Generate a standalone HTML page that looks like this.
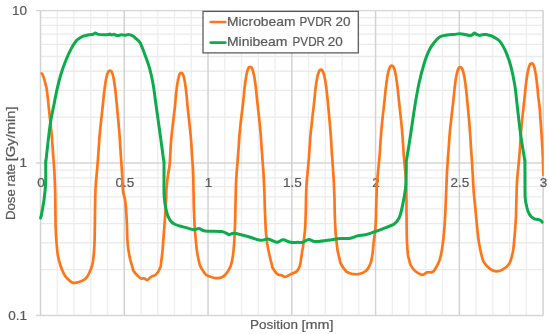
<!DOCTYPE html>
<html><head><meta charset="utf-8"><title>Dose rate profile</title>
<style>
html,body{margin:0;padding:0;background:#fff;}
svg{display:block;}
text{font-family:'Liberation Sans', Arial, sans-serif;fill:#595959;stroke:#595959;stroke-width:0.22px;}
</style></head><body>
<svg width="550" height="334" viewBox="0 0 550 334">
<rect width="550" height="334" fill="#ffffff"/>
<g>
<line x1="57.25" y1="10.6" x2="57.25" y2="315.5" stroke="#efefef" stroke-width="1.4"/>
<line x1="74.01" y1="10.6" x2="74.01" y2="315.5" stroke="#efefef" stroke-width="1.4"/>
<line x1="90.76" y1="10.6" x2="90.76" y2="315.5" stroke="#efefef" stroke-width="1.4"/>
<line x1="107.51" y1="10.6" x2="107.51" y2="315.5" stroke="#efefef" stroke-width="1.4"/>
<line x1="141.02" y1="10.6" x2="141.02" y2="315.5" stroke="#efefef" stroke-width="1.4"/>
<line x1="157.77" y1="10.6" x2="157.77" y2="315.5" stroke="#efefef" stroke-width="1.4"/>
<line x1="174.53" y1="10.6" x2="174.53" y2="315.5" stroke="#efefef" stroke-width="1.4"/>
<line x1="191.28" y1="10.6" x2="191.28" y2="315.5" stroke="#efefef" stroke-width="1.4"/>
<line x1="224.79" y1="10.6" x2="224.79" y2="315.5" stroke="#efefef" stroke-width="1.4"/>
<line x1="241.54" y1="10.6" x2="241.54" y2="315.5" stroke="#efefef" stroke-width="1.4"/>
<line x1="258.29" y1="10.6" x2="258.29" y2="315.5" stroke="#efefef" stroke-width="1.4"/>
<line x1="275.05" y1="10.6" x2="275.05" y2="315.5" stroke="#efefef" stroke-width="1.4"/>
<line x1="308.55" y1="10.6" x2="308.55" y2="315.5" stroke="#efefef" stroke-width="1.4"/>
<line x1="325.31" y1="10.6" x2="325.31" y2="315.5" stroke="#efefef" stroke-width="1.4"/>
<line x1="342.06" y1="10.6" x2="342.06" y2="315.5" stroke="#efefef" stroke-width="1.4"/>
<line x1="358.81" y1="10.6" x2="358.81" y2="315.5" stroke="#efefef" stroke-width="1.4"/>
<line x1="392.32" y1="10.6" x2="392.32" y2="315.5" stroke="#efefef" stroke-width="1.4"/>
<line x1="409.07" y1="10.6" x2="409.07" y2="315.5" stroke="#efefef" stroke-width="1.4"/>
<line x1="425.83" y1="10.6" x2="425.83" y2="315.5" stroke="#efefef" stroke-width="1.4"/>
<line x1="442.58" y1="10.6" x2="442.58" y2="315.5" stroke="#efefef" stroke-width="1.4"/>
<line x1="476.09" y1="10.6" x2="476.09" y2="315.5" stroke="#efefef" stroke-width="1.4"/>
<line x1="492.84" y1="10.6" x2="492.84" y2="315.5" stroke="#efefef" stroke-width="1.4"/>
<line x1="509.59" y1="10.6" x2="509.59" y2="315.5" stroke="#efefef" stroke-width="1.4"/>
<line x1="526.35" y1="10.6" x2="526.35" y2="315.5" stroke="#efefef" stroke-width="1.4"/>
<line x1="40.5" y1="269.61" x2="543.1" y2="269.61" stroke="#ebebeb" stroke-width="1.3"/>
<line x1="40.5" y1="242.76" x2="543.1" y2="242.76" stroke="#ebebeb" stroke-width="1.3"/>
<line x1="40.5" y1="223.72" x2="543.1" y2="223.72" stroke="#ebebeb" stroke-width="1.3"/>
<line x1="40.5" y1="208.94" x2="543.1" y2="208.94" stroke="#ebebeb" stroke-width="1.3"/>
<line x1="40.5" y1="196.87" x2="543.1" y2="196.87" stroke="#ebebeb" stroke-width="1.3"/>
<line x1="40.5" y1="186.66" x2="543.1" y2="186.66" stroke="#ebebeb" stroke-width="1.3"/>
<line x1="40.5" y1="177.82" x2="543.1" y2="177.82" stroke="#ebebeb" stroke-width="1.3"/>
<line x1="40.5" y1="170.03" x2="543.1" y2="170.03" stroke="#ebebeb" stroke-width="1.3"/>
<line x1="40.5" y1="117.16" x2="543.1" y2="117.16" stroke="#ebebeb" stroke-width="1.3"/>
<line x1="40.5" y1="90.31" x2="543.1" y2="90.31" stroke="#ebebeb" stroke-width="1.3"/>
<line x1="40.5" y1="71.27" x2="543.1" y2="71.27" stroke="#ebebeb" stroke-width="1.3"/>
<line x1="40.5" y1="56.49" x2="543.1" y2="56.49" stroke="#ebebeb" stroke-width="1.3"/>
<line x1="40.5" y1="44.42" x2="543.1" y2="44.42" stroke="#ebebeb" stroke-width="1.3"/>
<line x1="40.5" y1="34.21" x2="543.1" y2="34.21" stroke="#ebebeb" stroke-width="1.3"/>
<line x1="40.5" y1="25.37" x2="543.1" y2="25.37" stroke="#ebebeb" stroke-width="1.3"/>
<line x1="40.5" y1="17.58" x2="543.1" y2="17.58" stroke="#ebebeb" stroke-width="1.3"/>
<line x1="36.0" y1="315.50" x2="543.1" y2="315.50" stroke="#d6d6d6" stroke-width="1.4"/>
<line x1="36.0" y1="163.05" x2="543.1" y2="163.05" stroke="#d6d6d6" stroke-width="1.4"/>
<line x1="36.0" y1="10.60" x2="543.1" y2="10.60" stroke="#d6d6d6" stroke-width="1.4"/>
<line x1="40.50" y1="10.6" x2="40.50" y2="315.5" stroke="#d2d2d2" stroke-width="1.5"/>
<line x1="124.27" y1="10.6" x2="124.27" y2="315.5" stroke="#d2d2d2" stroke-width="1.5"/>
<line x1="208.03" y1="10.6" x2="208.03" y2="315.5" stroke="#d2d2d2" stroke-width="1.5"/>
<line x1="291.80" y1="10.6" x2="291.80" y2="315.5" stroke="#d2d2d2" stroke-width="1.5"/>
<line x1="375.57" y1="10.6" x2="375.57" y2="315.5" stroke="#d2d2d2" stroke-width="1.5"/>
<line x1="459.33" y1="10.6" x2="459.33" y2="315.5" stroke="#d2d2d2" stroke-width="1.5"/>
<line x1="543.10" y1="10.6" x2="543.10" y2="315.5" stroke="#d2d2d2" stroke-width="1.5"/>
</g>
<g font-size="13.5">
<text x="27" y="15" text-anchor="end">10</text>
<text x="27" y="167.3" text-anchor="end">1</text>
<text x="27" y="320" text-anchor="end">0.1</text>
<text x="41.0" y="186.6" text-anchor="middle">0</text>
<text x="124.8" y="186.6" text-anchor="middle">0.5</text>
<text x="208.5" y="186.6" text-anchor="middle">1</text>
<text x="292.3" y="186.6" text-anchor="middle">1.5</text>
<text x="376.1" y="186.6" text-anchor="middle">2</text>
<text x="459.8" y="186.6" text-anchor="middle">2.5</text>
<text x="543.6" y="186.6" text-anchor="middle">3</text>
<text x="249.9" y="329.3" textLength="48" lengthAdjust="spacingAndGlyphs">Position</text>
<text x="301.4" y="329.3" textLength="32" lengthAdjust="spacingAndGlyphs">[mm]</text>
<g transform="translate(14.6,0) rotate(-90)">
<text x="-220" y="0" textLength="30.8" lengthAdjust="spacingAndGlyphs">Dose</text>
<text x="-186.4" y="0" textLength="22.4" lengthAdjust="spacingAndGlyphs">rate</text>
<text x="-161.3" y="0" textLength="55" lengthAdjust="spacingAndGlyphs">[Gy/min]</text>
</g>
</g>
<clipPath id="pc"><rect x="38" y="0" width="505.7" height="334"/></clipPath>
<g clip-path="url(#pc)">
<path d="M41.7,73.4C41.9,73.6 42.2,73.7 42.6,74.6C43.0,75.5 43.5,77.2 44.0,78.6C44.5,80.0 44.9,81.6 45.3,83.2C45.7,84.8 46.1,85.5 46.5,88.0C46.9,90.5 47.5,95.2 47.8,98.0C48.2,100.8 48.2,101.8 48.5,105.0C48.8,108.2 49.4,113.0 49.8,117.0C50.3,121.0 50.7,125.0 51.1,129.0C51.5,133.0 51.9,137.0 52.2,141.0C52.5,145.0 52.7,149.0 53.0,153.0C53.3,157.0 53.7,161.0 53.9,165.0C54.2,169.0 54.5,173.0 54.6,177.0C54.8,181.0 55.0,185.0 55.1,189.0C55.2,193.0 55.2,197.0 55.3,201.0C55.4,205.0 55.4,209.0 55.4,213.0C55.5,217.0 55.5,221.0 55.6,225.0C55.8,229.0 55.9,233.0 56.1,237.0C56.4,241.0 56.8,246.0 57.1,249.0C57.3,252.0 57.3,252.3 57.8,255.0C58.3,257.7 59.3,261.9 60.3,265.0C61.3,268.1 62.7,271.6 63.9,273.9C65.1,276.2 66.2,277.5 67.7,279.0C69.2,280.5 70.8,282.2 72.7,282.7C74.6,283.2 76.9,282.6 79.0,282.0C81.1,281.4 83.6,280.3 85.2,279.0C86.8,277.7 87.6,276.2 88.7,274.0C89.8,271.8 91.3,268.4 92.0,266.0C92.7,263.6 92.8,262.6 93.2,259.5C93.6,256.4 94.1,250.8 94.3,247.5C94.5,244.2 94.5,242.0 94.6,240.0C94.7,238.0 94.6,238.2 94.7,235.5C94.7,232.8 94.8,227.5 94.9,223.5C94.9,219.5 95.0,215.5 95.0,211.5C95.1,207.5 95.2,203.5 95.2,199.5C95.3,195.5 95.4,191.5 95.6,187.5C95.8,183.5 96.2,179.5 96.6,175.5C96.9,171.5 97.3,167.5 97.6,163.5C97.9,159.5 98.3,155.5 98.5,151.5C98.8,147.5 99.0,143.5 99.3,139.5C99.6,135.5 100.0,131.5 100.4,127.5C100.8,123.5 101.2,119.5 101.7,115.5C102.1,111.5 102.7,106.7 103.0,103.5C103.3,100.3 103.5,98.7 103.7,96.5C103.9,94.3 104.1,92.5 104.4,90.5C104.6,88.5 104.9,86.3 105.2,84.5C105.4,82.7 105.7,81.0 106.0,79.5C106.3,78.0 106.6,76.7 106.9,75.5C107.2,74.3 107.6,73.2 107.9,72.5C108.2,71.8 108.5,71.3 108.8,71.0C109.2,70.7 109.6,70.5 110.0,70.5C110.4,70.5 110.8,70.7 111.1,71.0C111.4,71.3 111.7,71.8 112.0,72.5C112.3,73.2 112.7,74.3 113.0,75.5C113.3,76.7 113.5,78.0 113.8,79.5C114.1,81.0 114.3,82.7 114.6,84.5C114.9,86.3 115.1,88.5 115.4,90.5C115.6,92.5 115.8,94.3 116.0,96.5C116.2,98.7 116.3,100.3 116.7,103.5C117.0,106.7 117.4,111.5 117.8,115.5C118.2,119.5 118.6,123.5 118.9,127.5C119.2,131.5 119.6,135.5 119.9,139.5C120.1,143.5 120.3,147.5 120.6,151.5C120.8,155.5 121.1,159.5 121.4,163.5C121.7,167.5 121.9,171.5 122.2,175.5C122.4,179.5 122.6,184.6 122.8,187.5C123.0,190.4 122.9,191.0 123.3,193.0C123.7,195.0 124.5,196.4 125.0,199.5C125.5,202.6 125.9,207.5 126.2,211.5C126.5,215.5 126.7,219.5 126.9,223.5C127.0,227.5 127.1,232.8 127.2,235.5C127.3,238.2 127.3,238.0 127.4,240.0C127.5,242.0 127.8,245.0 128.1,247.5C128.4,250.0 128.9,253.0 129.3,255.0C129.7,257.0 129.7,257.4 130.2,259.5C130.8,261.6 132.0,265.7 132.6,267.6C133.2,269.5 132.7,269.6 133.6,271.0C134.5,272.4 136.8,274.9 138.1,276.2C139.3,277.5 140.1,278.2 141.1,278.6C142.1,279.0 143.1,278.1 144.1,278.3C145.1,278.5 145.9,280.2 147.1,280.0C148.3,279.8 149.6,277.7 151.1,276.8C152.6,275.9 154.6,275.9 156.1,274.4C157.6,272.9 159.5,269.7 160.3,267.6C161.1,265.5 160.8,264.8 161.2,261.8C161.6,258.8 162.2,253.8 162.6,249.8C162.9,245.8 163.2,241.1 163.5,237.8C163.7,234.5 163.9,232.0 164.1,230.0C164.3,228.0 164.2,228.5 164.4,225.8C164.6,223.1 165.0,217.8 165.3,213.8C165.5,209.8 165.8,205.8 166.0,201.8C166.2,197.8 166.2,193.8 166.4,189.8C166.7,185.8 167.1,181.8 167.6,177.8C168.1,173.8 169.1,169.8 169.5,165.8C170.0,161.8 170.1,157.8 170.3,153.8C170.6,149.8 170.7,145.8 171.0,141.8C171.3,137.8 171.8,133.8 172.2,129.8C172.7,125.8 173.2,121.8 173.6,117.8C174.1,113.8 174.7,109.0 175.0,105.8C175.4,102.6 175.4,101.0 175.6,98.8C175.8,96.6 176.0,94.8 176.2,92.8C176.4,90.8 176.7,88.6 176.9,86.8C177.2,85.0 177.4,83.3 177.7,81.8C177.9,80.3 178.2,79.0 178.5,77.8C178.7,76.6 179.1,75.5 179.4,74.8C179.6,74.0 179.9,73.6 180.2,73.3C180.5,73.0 180.9,72.8 181.2,72.8C181.5,72.8 181.9,73.0 182.2,73.3C182.6,73.6 182.8,74.0 183.1,74.8C183.4,75.5 183.7,76.6 184.0,77.8C184.3,79.0 184.5,80.3 184.8,81.8C185.1,83.3 185.3,85.0 185.6,86.8C185.8,88.6 186.1,90.8 186.3,92.8C186.5,94.8 186.7,96.6 186.9,98.8C187.1,101.0 187.2,102.6 187.5,105.8C187.8,109.0 188.4,113.8 188.8,117.8C189.2,121.8 189.7,125.8 190.1,129.8C190.5,133.8 190.9,137.8 191.2,141.8C191.5,145.8 191.6,149.8 191.9,153.8C192.1,157.8 192.6,161.8 192.8,165.8C193.0,169.8 193.2,174.6 193.3,177.8C193.4,181.0 193.4,183.0 193.4,185.0C193.4,187.0 193.4,187.0 193.5,189.8C193.6,192.6 193.7,197.8 193.7,201.8C193.8,205.8 193.9,209.8 194.1,213.8C194.2,217.8 194.4,221.8 194.6,225.8C194.9,229.8 195.3,234.8 195.6,237.8C195.9,240.8 196.0,242.0 196.2,244.0C196.4,246.0 196.6,248.0 196.8,249.8C197.1,251.6 197.2,253.0 197.6,255.0C198.0,257.0 198.6,259.9 199.1,261.8C199.6,263.7 199.4,264.4 200.4,266.4C201.4,268.4 203.8,272.2 205.2,273.9C206.6,275.5 207.6,275.7 209.0,276.3C210.4,276.9 212.0,277.4 213.5,277.7C215.0,278.0 216.5,278.3 218.0,278.2C219.5,278.1 221.1,277.6 222.3,277.0C223.6,276.4 224.6,275.5 225.5,274.5C226.4,273.5 227.1,272.8 228.0,271.2C228.9,269.6 230.2,267.6 231.0,265.0C231.8,262.4 232.4,259.3 232.9,255.8C233.4,252.3 233.8,247.8 234.1,243.8C234.4,239.8 234.6,234.9 234.7,231.8C234.9,228.7 234.9,227.0 235.0,225.0C235.1,223.0 235.1,222.7 235.2,219.8C235.2,216.9 235.4,211.8 235.4,207.8C235.5,203.8 235.6,199.8 235.7,195.8C235.8,191.8 235.9,187.8 236.0,183.8C236.2,179.8 236.5,175.8 236.7,171.8C237.0,167.8 237.4,163.8 237.7,159.8C238.0,155.8 238.3,151.8 238.6,147.8C238.9,143.8 239.1,139.8 239.4,135.8C239.7,131.8 240.2,127.8 240.6,123.8C241.0,119.8 241.5,115.8 242.0,111.8C242.5,107.8 243.1,103.0 243.4,99.8C243.8,96.6 243.9,95.0 244.1,92.8C244.3,90.6 244.5,88.8 244.7,86.8C245.0,84.8 245.2,82.6 245.5,80.8C245.8,79.0 246.0,77.3 246.3,75.8C246.6,74.3 246.8,73.0 247.1,71.8C247.4,70.6 247.8,69.5 248.1,68.8C248.4,68.0 248.7,67.6 249.0,67.3C249.3,67.0 249.7,66.8 250.1,66.8C250.5,66.8 250.9,67.0 251.3,67.3C251.6,67.6 251.9,68.0 252.2,68.8C252.5,69.5 252.9,70.6 253.2,71.8C253.5,73.0 253.8,74.3 254.1,75.8C254.4,77.3 254.7,79.0 254.9,80.8C255.2,82.6 255.5,84.8 255.7,86.8C256.0,88.8 256.2,90.6 256.4,92.8C256.6,95.0 256.8,96.6 257.1,99.8C257.4,103.0 258.0,107.8 258.4,111.8C258.9,115.8 259.3,119.8 259.7,123.8C260.1,127.8 260.5,131.8 260.8,135.8C261.1,139.8 261.3,143.8 261.6,147.8C261.9,151.8 262.2,155.8 262.5,159.8C262.8,163.8 263.1,167.8 263.4,171.8C263.6,175.8 263.9,179.8 264.0,183.8C264.2,187.8 264.4,191.8 264.5,195.8C264.6,199.8 264.7,203.8 264.8,207.8C265.0,211.8 265.1,216.6 265.3,219.8C265.4,223.0 265.5,225.0 265.6,227.0C265.7,229.0 265.7,229.0 265.9,231.8C266.2,234.6 266.6,239.8 267.2,243.8C267.9,247.8 268.8,252.3 269.6,255.8C270.3,259.3 271.4,263.0 271.9,265.0C272.4,267.0 271.7,266.3 272.6,267.8C273.5,269.3 275.6,272.7 277.2,274.0C278.8,275.3 280.9,274.9 282.2,275.4C283.5,275.9 283.8,277.2 285.2,277.0C286.6,276.8 288.4,275.3 290.3,274.4C292.2,273.5 294.9,272.6 296.3,271.6C297.7,270.6 298.1,269.7 298.8,268.4C299.5,267.1 299.9,265.6 300.3,264.0C300.7,262.4 300.8,260.7 301.1,258.7C301.4,256.7 301.8,254.0 302.1,252.0C302.4,250.0 302.6,249.6 303.0,246.7C303.4,243.8 304.2,238.0 304.5,234.7C304.9,231.4 305.1,229.0 305.2,227.0C305.3,225.0 305.3,225.4 305.4,222.7C305.5,220.0 305.7,214.7 305.8,210.7C305.9,206.7 305.9,202.7 306.0,198.7C306.1,194.7 306.2,190.7 306.4,186.7C306.6,182.7 307.0,178.7 307.4,174.7C307.7,170.7 308.2,166.7 308.5,162.7C308.9,158.7 309.2,154.7 309.4,150.7C309.7,146.7 309.9,142.7 310.2,138.7C310.5,134.7 310.9,130.7 311.4,126.7C311.8,122.7 312.3,118.7 312.7,114.7C313.2,110.7 313.8,105.9 314.1,102.7C314.5,99.5 314.6,97.9 314.8,95.7C315.0,93.5 315.2,91.7 315.4,89.7C315.7,87.7 315.9,85.5 316.2,83.7C316.5,81.9 316.7,80.2 317.0,78.7C317.3,77.2 317.6,75.9 317.9,74.7C318.2,73.5 318.6,72.5 318.9,71.7C319.2,71.0 319.4,70.5 319.8,70.2C320.1,69.9 320.5,69.7 320.9,69.7C321.3,69.7 321.7,69.9 322.1,70.2C322.4,70.5 322.7,71.0 323.0,71.7C323.3,72.5 323.7,73.5 324.0,74.7C324.3,75.9 324.6,77.2 324.9,78.7C325.2,80.2 325.5,81.9 325.7,83.7C326.0,85.5 326.3,87.7 326.5,89.7C326.8,91.7 327.0,93.5 327.2,95.7C327.4,97.9 327.6,99.5 327.9,102.7C328.2,105.9 328.7,110.7 329.0,114.7C329.4,118.7 329.7,122.7 330.1,126.7C330.4,130.7 330.7,134.7 331.0,138.7C331.3,142.7 331.4,146.7 331.7,150.7C331.9,154.7 332.3,158.7 332.6,162.7C332.8,166.7 333.1,170.7 333.4,174.7C333.6,178.7 333.9,182.7 334.0,186.7C334.2,190.7 334.3,194.7 334.5,198.7C334.6,202.7 334.6,206.7 334.7,210.7C334.8,214.7 335.0,220.0 335.1,222.7C335.2,225.4 335.2,225.0 335.3,227.0C335.4,229.0 335.5,231.4 335.8,234.7C336.1,238.0 336.8,244.0 337.1,246.7C337.4,249.4 337.3,249.0 337.7,251.0C338.1,253.0 338.9,256.5 339.4,258.7C340.0,260.9 339.9,261.9 341.0,264.0C342.1,266.1 344.6,269.7 346.1,271.2C347.6,272.7 348.7,272.7 350.0,273.2C351.3,273.7 352.4,274.1 354.1,274.2C355.8,274.3 358.1,274.4 360.1,273.8C362.1,273.2 364.4,272.4 366.1,270.8C367.8,269.2 369.2,266.7 370.3,264.0C371.4,261.3 371.9,258.2 372.4,254.7C373.0,251.1 373.1,246.7 373.6,242.7C374.0,238.7 374.9,234.7 375.2,230.7C375.6,226.7 375.7,222.7 375.9,218.7C376.1,214.7 376.1,210.7 376.2,206.7C376.4,202.7 376.4,198.7 376.6,194.7C376.7,190.7 376.8,186.7 377.1,182.7C377.3,178.7 377.8,174.7 378.2,170.7C378.6,166.7 379.0,162.7 379.3,158.7C379.7,154.7 380.0,150.7 380.2,146.7C380.5,142.7 380.7,138.7 381.0,134.7C381.3,130.7 381.7,126.7 382.1,122.7C382.5,118.7 382.9,114.7 383.4,110.7C383.8,106.7 384.4,101.9 384.7,98.7C385.0,95.5 385.2,93.9 385.4,91.7C385.6,89.5 385.8,87.7 386.1,85.7C386.3,83.7 386.6,81.5 386.9,79.7C387.1,77.9 387.4,76.2 387.7,74.7C388.0,73.2 388.3,71.9 388.6,70.7C388.9,69.5 389.3,68.5 389.6,67.7C389.9,67.0 390.2,66.5 390.5,66.2C390.9,65.9 391.3,65.7 391.7,65.7C392.1,65.7 392.5,65.9 392.9,66.2C393.2,66.5 393.5,67.0 393.8,67.7C394.1,68.5 394.5,69.5 394.8,70.7C395.1,71.9 395.4,73.2 395.7,74.7C396.0,76.2 396.3,77.9 396.5,79.7C396.8,81.5 397.1,83.7 397.3,85.7C397.6,87.7 397.8,89.5 398.0,91.7C398.2,93.9 398.4,95.5 398.7,98.7C399.0,101.9 399.6,106.7 400.0,110.7C400.5,114.7 400.9,118.7 401.3,122.7C401.7,126.7 402.1,130.7 402.4,134.7C402.7,138.7 402.9,142.7 403.2,146.7C403.4,150.7 403.7,154.7 404.1,158.7C404.4,162.7 404.8,166.7 405.2,170.7C405.5,174.7 406.0,178.7 406.2,182.7C406.4,186.7 406.4,190.7 406.4,194.7C406.5,198.7 406.5,202.7 406.5,206.7C406.5,210.7 406.5,214.7 406.6,218.7C406.6,222.7 406.6,226.7 406.7,230.7C406.8,234.7 406.8,238.7 407.0,242.7C407.2,246.7 407.6,251.8 407.9,254.7C408.3,257.6 408.8,258.3 409.2,260.0C409.6,261.7 409.8,263.4 410.6,265.0C411.4,266.6 412.8,268.5 414.0,269.8C415.2,271.1 416.4,272.0 417.8,272.8C419.2,273.6 421.1,275.0 422.6,274.9C424.2,274.8 425.3,273.0 427.1,272.4C428.9,271.8 431.4,273.1 433.4,271.4C435.3,269.7 437.6,264.6 438.8,262.0C440.0,259.4 440.1,259.1 440.7,256.1C441.4,253.1 442.2,248.1 442.7,244.1C443.3,240.1 443.7,235.3 444.0,232.1C444.3,228.9 444.5,227.0 444.6,225.0C444.7,223.0 444.8,222.9 444.9,220.1C445.1,217.3 445.3,212.1 445.5,208.1C445.7,204.1 445.8,200.1 446.0,196.1C446.2,192.1 446.3,188.1 446.5,184.1C446.7,180.1 446.8,176.1 447.0,172.1C447.2,168.1 447.5,164.1 447.8,160.1C448.0,156.1 448.4,152.1 448.7,148.1C449.0,144.1 449.2,140.1 449.5,136.1C449.8,132.1 450.2,128.1 450.7,124.1C451.1,120.1 451.6,116.1 452.0,112.1C452.5,108.1 453.1,103.3 453.4,100.1C453.8,96.9 453.9,95.3 454.1,93.1C454.3,90.9 454.5,89.1 454.7,87.1C455.0,85.1 455.2,82.9 455.5,81.1C455.8,79.3 456.0,77.6 456.3,76.1C456.6,74.6 456.9,73.3 457.2,72.1C457.5,70.9 457.9,69.8 458.2,69.1C458.5,68.3 458.7,67.9 459.1,67.6C459.4,67.3 459.8,67.1 460.2,67.1C460.6,67.1 461.0,67.3 461.4,67.6C461.7,67.9 462.0,68.3 462.3,69.1C462.6,69.8 463.0,70.9 463.3,72.1C463.6,73.3 463.9,74.6 464.2,76.1C464.5,77.6 464.8,79.3 465.0,81.1C465.3,82.9 465.6,85.1 465.8,87.1C466.1,89.1 466.3,90.9 466.5,93.1C466.7,95.3 466.9,96.9 467.2,100.1C467.5,103.3 468.0,108.1 468.3,112.1C468.7,116.1 469.0,120.1 469.4,124.1C469.7,128.1 470.0,132.1 470.3,136.1C470.6,140.1 470.7,144.1 471.0,148.1C471.2,152.1 471.6,156.1 471.9,160.1C472.1,164.1 472.4,168.1 472.6,172.1C472.9,176.1 473.1,181.1 473.2,184.1C473.4,187.1 473.5,188.0 473.6,190.0C473.7,192.0 473.8,193.1 474.1,196.1C474.4,199.1 474.9,204.1 475.3,208.1C475.7,212.1 476.1,216.9 476.4,220.1C476.7,223.2 476.9,225.0 477.1,227.0C477.3,229.0 477.4,229.9 477.6,232.1C477.9,234.3 478.3,238.0 478.6,240.0C478.9,242.0 478.7,241.4 479.2,244.1C479.7,246.8 480.9,253.0 481.8,256.1C482.6,259.2 482.7,260.5 484.1,262.6C485.5,264.7 487.9,267.4 489.9,268.9C491.9,270.4 494.1,271.3 496.2,271.4C498.3,271.5 500.4,270.8 502.5,269.6C504.6,268.4 507.4,266.9 509.1,264.0C510.8,261.1 512.0,256.2 512.8,252.3C513.7,248.4 513.8,244.3 514.2,240.3C514.6,236.3 514.9,232.3 515.2,228.3C515.5,224.3 515.8,220.3 516.0,216.3C516.1,212.3 516.2,208.3 516.3,204.3C516.4,200.3 516.5,196.3 516.6,192.3C516.7,188.3 516.8,184.3 517.1,180.3C517.4,176.3 517.8,172.3 518.2,168.3C518.6,164.3 519.0,160.3 519.3,156.3C519.7,152.3 520.0,148.3 520.2,144.3C520.5,140.3 520.7,136.3 521.0,132.3C521.3,128.3 521.7,124.3 522.1,120.3C522.5,116.3 522.9,112.3 523.4,108.3C523.8,104.3 524.4,99.5 524.7,96.3C525.0,93.1 525.2,91.5 525.4,89.3C525.6,87.1 525.8,85.3 526.1,83.3C526.3,81.3 526.6,79.1 526.9,77.3C527.1,75.5 527.4,73.8 527.7,72.3C528.0,70.8 528.3,69.5 528.6,68.3C528.9,67.1 529.3,66.0 529.6,65.3C529.9,64.5 530.2,64.1 530.5,63.8C530.9,63.5 531.3,63.3 531.7,63.3C532.1,63.3 532.4,63.5 532.8,63.8C533.1,64.1 533.3,64.5 533.7,65.3C534.0,66.0 534.3,67.1 534.6,68.3C534.9,69.5 535.2,70.8 535.4,72.3C535.7,73.8 535.9,75.5 536.2,77.3C536.5,79.1 536.7,81.3 536.9,83.3C537.2,85.3 537.4,87.1 537.6,89.3C537.8,91.5 537.9,93.1 538.2,96.3C538.6,99.5 539.3,104.3 539.7,108.3C540.1,112.2 540.1,114.7 540.5,120.0C540.9,125.3 541.5,133.7 541.9,140.0C542.3,146.3 542.6,152.2 542.9,158.0C543.1,163.8 543.3,172.2 543.4,175.0" fill="none" stroke="#ff7619" stroke-width="2.7" stroke-linejoin="round" stroke-linecap="round"/>
<path d="M40.6,218.0C40.7,217.7 40.9,217.3 41.2,216.0C41.5,214.7 41.8,212.7 42.3,210.0C42.8,207.3 43.5,203.7 44.0,200.0C44.5,196.3 45.0,191.3 45.3,188.0C45.6,184.7 45.6,184.3 45.7,180.0C45.8,175.7 45.7,165.4 45.7,162.2C45.7,159.0 45.7,161.4 45.8,161.0C45.9,160.6 45.4,165.5 46.1,159.5C46.8,153.5 48.7,134.7 50.1,125.1C51.5,115.5 53.3,108.2 54.5,102.0C55.7,95.8 56.3,92.5 57.4,87.8C58.5,83.1 59.6,78.6 61.0,74.0C62.4,69.4 64.2,64.4 65.9,60.2C67.6,56.0 69.4,52.1 71.1,48.9C72.8,45.7 74.9,42.5 76.3,40.8C77.7,39.1 78.0,39.3 79.2,38.5C80.4,37.7 81.5,36.8 83.2,36.2C84.9,35.6 87.5,35.1 89.2,34.8C90.9,34.5 92.2,34.5 93.2,34.2C94.2,33.9 94.4,32.9 95.2,32.9C96.0,32.9 96.7,34.1 98.2,34.4C99.7,34.7 102.6,34.8 104.3,34.8C106.0,34.8 107.4,34.7 108.3,34.6C109.2,34.5 109.3,33.9 109.9,34.0C110.5,34.1 111.2,35.0 111.9,35.0C112.6,35.0 113.0,34.1 113.9,34.2C114.8,34.3 116.1,35.5 117.3,35.6C118.5,35.7 120.0,34.9 121.3,34.8C122.6,34.7 124.1,35.3 125.3,35.2C126.5,35.1 127.2,34.3 128.4,34.4C129.6,34.5 131.2,35.0 132.4,35.6C133.6,36.2 134.1,36.9 135.4,38.1C136.7,39.3 138.7,40.4 140.2,43.0C141.7,45.6 143.1,49.8 144.6,53.9C146.1,58.0 147.9,62.5 149.4,67.7C150.9,72.9 152.3,79.6 153.3,85.3C154.3,91.0 154.6,94.7 155.6,102.0C156.6,109.3 158.1,119.6 159.4,129.0C160.7,138.4 162.7,153.2 163.4,158.5C164.1,163.8 163.7,159.8 163.8,160.5C163.9,161.2 164.0,159.2 164.0,162.5C164.0,165.8 164.0,174.6 164.0,180.0C164.0,185.4 163.9,190.8 164.1,195.0C164.3,199.2 164.7,201.8 165.2,205.0C165.7,208.2 166.4,211.4 167.2,214.0C168.0,216.6 169.0,218.6 170.2,220.3C171.4,222.0 172.7,223.1 174.3,224.0C175.9,224.9 178.1,225.4 180.0,226.0C181.9,226.6 183.7,227.0 186.0,227.6C188.3,228.2 191.8,229.5 193.9,229.7C196.1,229.8 197.0,228.3 198.9,228.5C200.8,228.7 201.4,230.5 205.2,231.0C209.0,231.5 217.6,230.9 221.6,231.5C225.6,232.1 227.0,234.2 229.1,234.5C231.2,234.8 231.0,233.0 234.1,233.3C237.2,233.6 243.5,235.3 247.9,236.5C252.3,237.7 257.1,239.9 260.5,240.3C263.9,240.7 265.3,238.7 268.0,239.0C270.7,239.3 274.3,242.2 276.8,242.3C279.3,242.4 280.8,239.8 283.1,239.8C285.4,239.8 288.2,241.9 290.6,242.3C293.0,242.7 295.7,242.3 297.7,242.3C299.7,242.3 300.8,242.8 302.6,242.3C304.5,241.8 306.7,239.6 308.8,239.5C310.9,239.4 312.0,241.5 315.1,241.6C318.2,241.7 323.5,240.8 327.7,240.3C331.9,239.8 336.5,238.8 340.3,238.5C344.1,238.2 347.4,238.8 350.3,238.3C353.2,237.9 355.3,236.4 357.8,235.8C360.3,235.2 362.5,235.5 365.4,234.8C368.3,234.1 372.0,232.7 375.4,231.5C378.8,230.3 382.4,228.9 385.5,227.7C388.6,226.4 392.0,225.7 394.3,224.0C396.6,222.3 397.9,220.8 399.3,217.7C400.7,214.5 401.6,209.7 402.6,205.1C403.6,200.5 404.7,194.5 405.3,190.0C405.9,185.5 405.9,182.5 406.1,178.0C406.3,173.5 406.3,165.8 406.3,163.0C406.3,160.2 406.2,161.8 406.3,161.2C406.4,160.6 405.8,164.3 406.6,159.6C407.4,154.8 409.5,142.0 410.9,132.7C412.3,123.4 413.8,112.5 415.2,104.0C416.6,95.5 417.8,88.8 419.3,82.0C420.8,75.2 422.7,68.2 424.3,63.0C425.9,57.8 427.2,54.4 428.8,51.0C430.4,47.6 432.1,45.2 434.0,42.8C435.9,40.4 437.8,38.1 440.0,36.8C442.2,35.5 444.9,35.4 447.2,35.0C449.5,34.6 451.9,34.6 454.0,34.4C456.1,34.2 457.9,33.8 459.7,33.8C461.5,33.8 463.3,34.1 465.0,34.4C466.7,34.7 468.6,35.5 469.8,35.5C471.1,35.5 471.7,35.0 472.5,34.6C473.3,34.2 473.8,33.0 474.5,33.0C475.2,33.0 475.6,34.0 476.5,34.4C477.4,34.8 478.7,35.4 479.8,35.4C480.9,35.4 481.9,34.7 483.0,34.6C484.1,34.5 485.0,34.5 486.1,34.6C487.2,34.7 488.4,35.1 489.5,35.4C490.6,35.7 491.3,35.6 493.0,36.6C494.7,37.6 497.7,38.7 499.9,41.4C502.1,44.1 504.3,48.3 506.2,52.7C508.1,57.1 509.8,62.3 511.2,67.7C512.6,73.1 513.9,79.9 514.8,85.3C515.7,90.7 515.7,92.1 516.6,100.0C517.5,107.9 519.1,122.9 520.4,132.7C521.7,142.5 523.8,154.2 524.5,158.8C525.2,163.4 524.7,159.8 524.8,160.4C524.9,161.0 524.9,158.3 524.9,162.2C524.9,166.1 525.0,178.0 525.0,184.0C525.0,190.0 524.9,194.0 525.2,198.0C525.5,202.0 526.3,205.2 527.0,208.0C527.7,210.8 528.5,212.8 529.6,214.6C530.8,216.4 532.1,217.7 533.9,218.6C535.6,219.5 538.7,219.6 540.1,220.2C541.5,220.8 542.0,221.9 542.4,222.2" fill="none" stroke="#0cab4c" stroke-width="3.0" stroke-linejoin="round" stroke-linecap="round"/>
</g>
<rect x="203" y="11.4" width="155.3" height="41.5" fill="#ffffff" stroke="#575757" stroke-width="1.25"/>
<line x1="210.7" y1="22" x2="225.3" y2="22" stroke="#ff7619" stroke-width="2.6" stroke-linecap="round"/>
<line x1="210.7" y1="42.6" x2="225.3" y2="42.6" stroke="#0cab4c" stroke-width="2.6" stroke-linecap="round"/>
<g font-size="13.5">
<text x="227" y="26.1" textLength="68.5" lengthAdjust="spacingAndGlyphs">Microbeam</text>
<text x="299.6" y="26.1" textLength="32.4" lengthAdjust="spacingAndGlyphs">PVDR</text>
<text x="335.6" y="26.1" textLength="15" lengthAdjust="spacingAndGlyphs">20</text>
<text x="227" y="46.3" textLength="60.5" lengthAdjust="spacingAndGlyphs">Minibeam</text>
<text x="292.6" y="46.3" textLength="32.4" lengthAdjust="spacingAndGlyphs">PVDR</text>
<text x="327.7" y="46.3" textLength="15" lengthAdjust="spacingAndGlyphs">20</text>
</g>
</svg>
</body></html>
